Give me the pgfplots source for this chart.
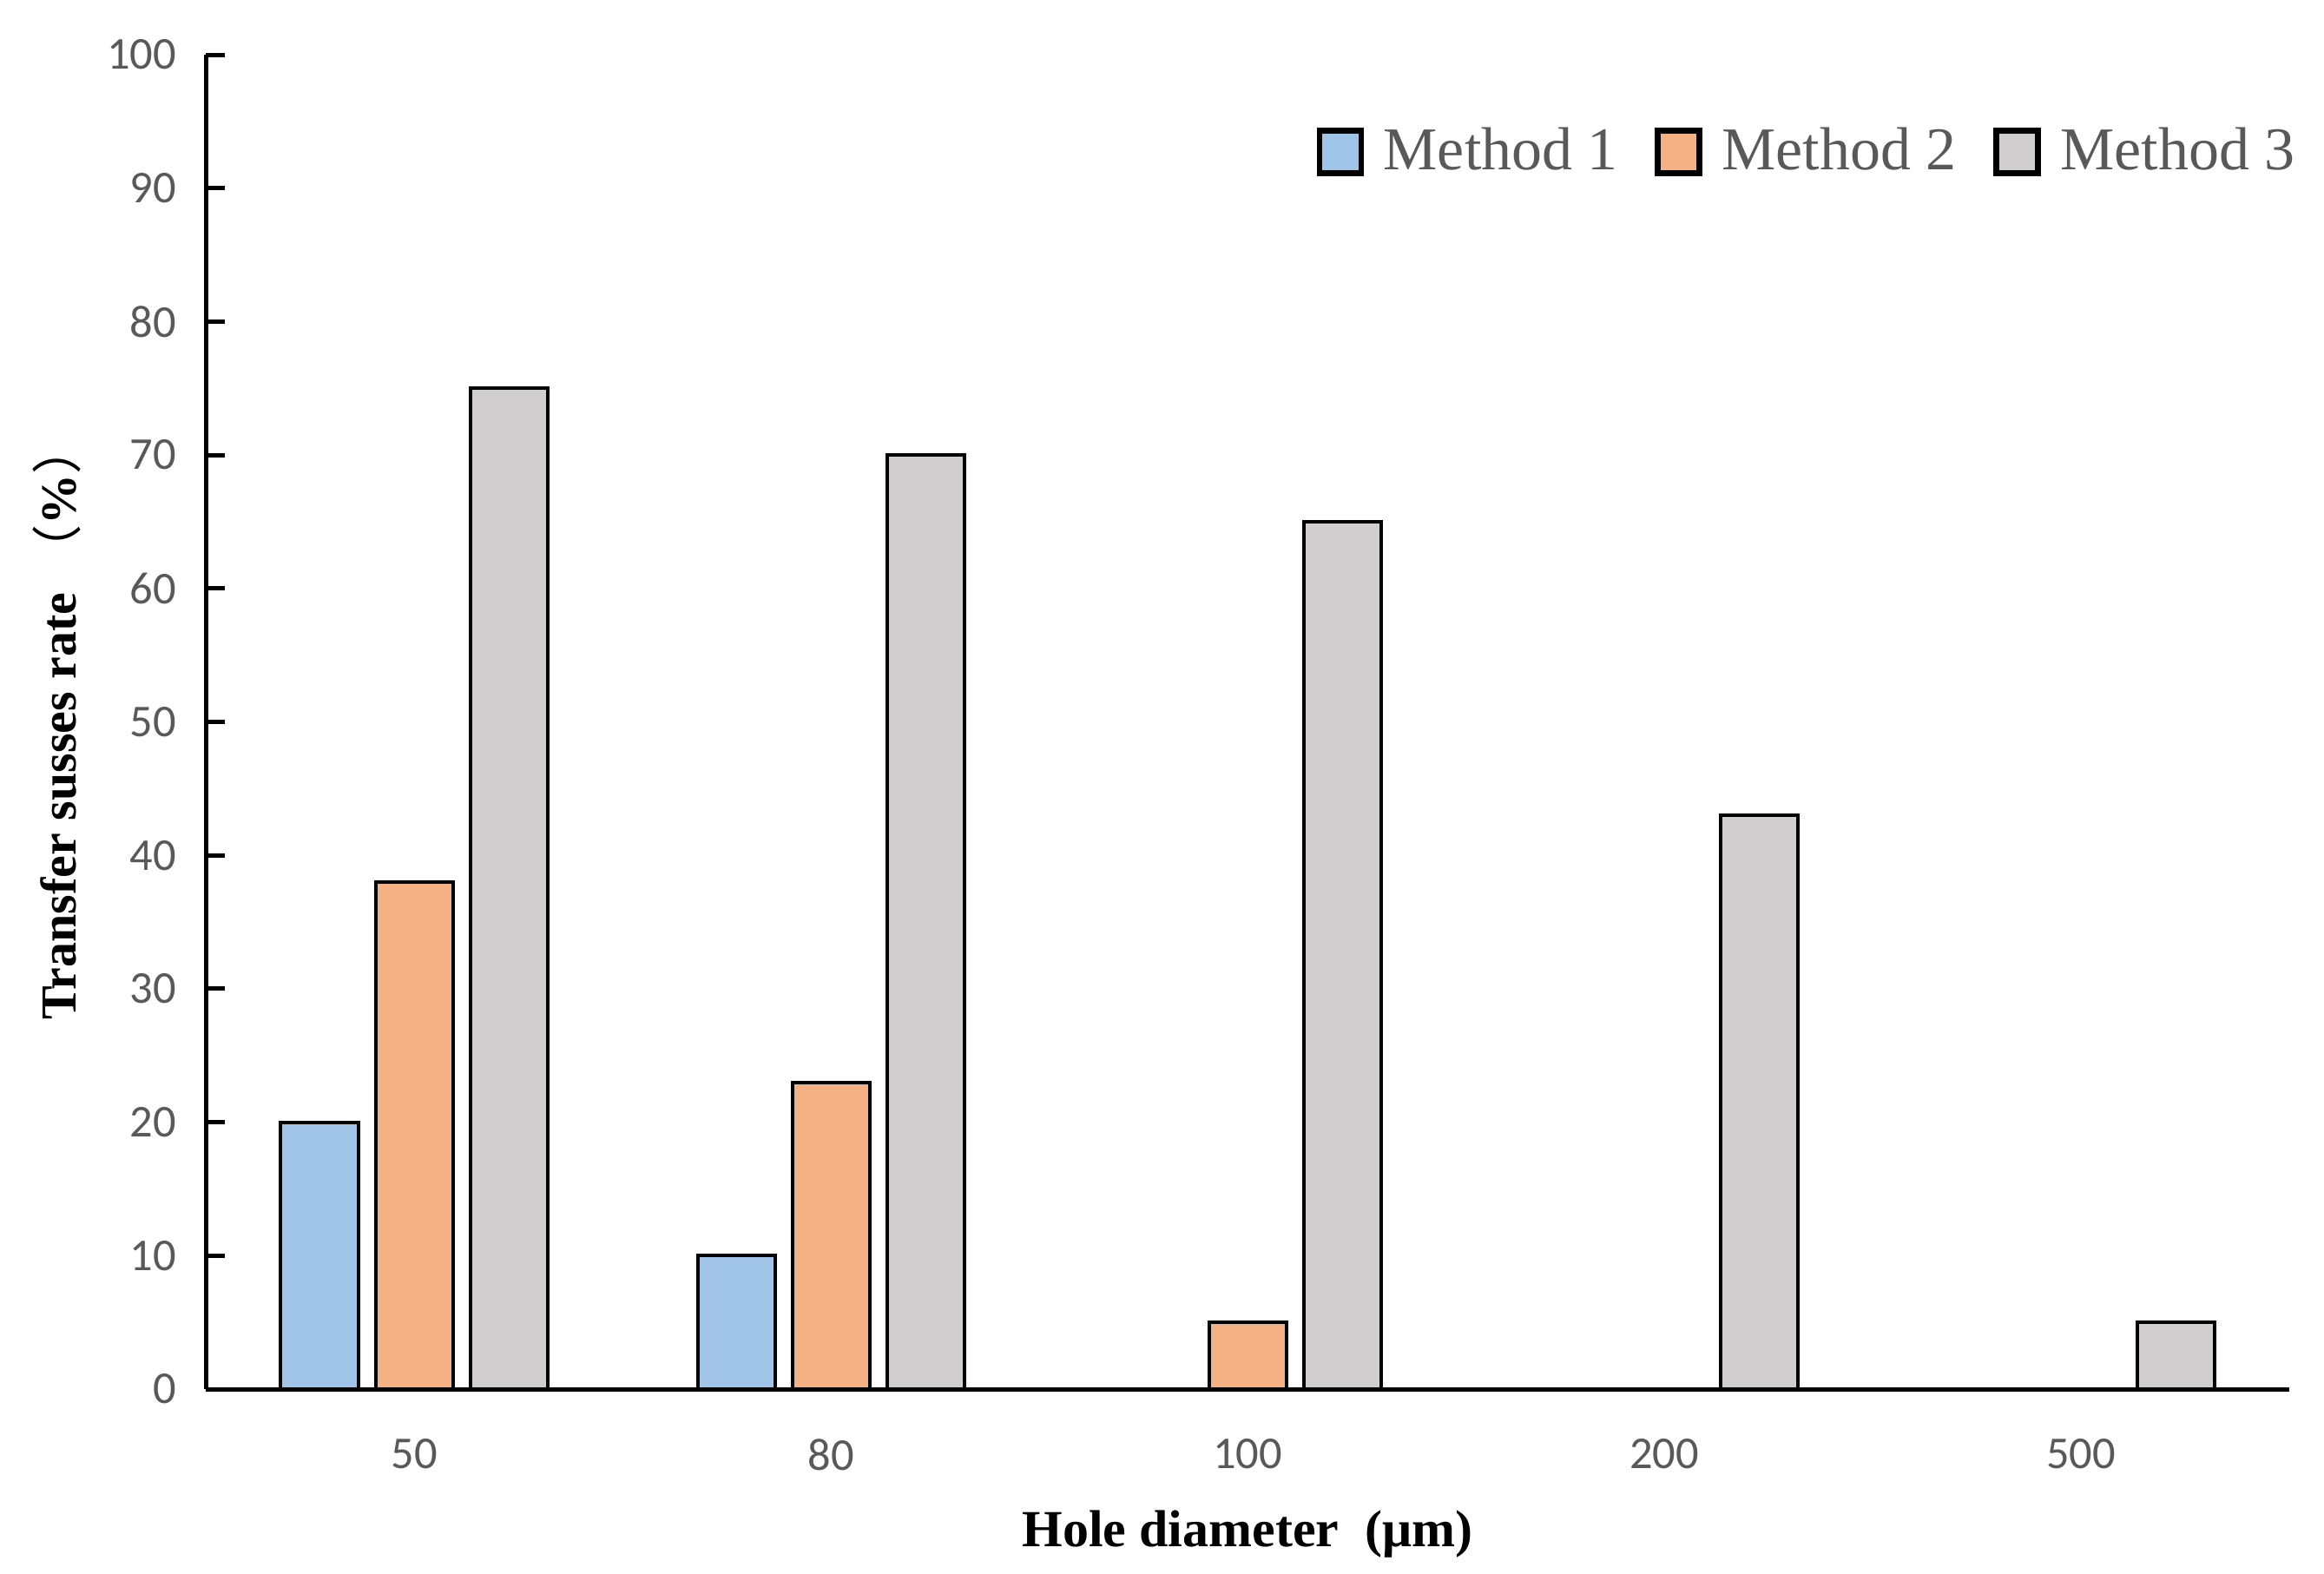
\documentclass[border=0pt]{standalone}
\usepackage{fontspec}
\setmainfont{Liberation Serif}
\newfontfamily\carlito{Carlito}
\newfontfamily\cjk{Noto Sans CJK SC}
\usepackage{pgfplots}
\pgfplotsset{compat=1.18}

\definecolor{mblue}{HTML}{A0C4E8}
\definecolor{morange}{HTML}{F4B183}
\definecolor{mgray}{HTML}{D0CECE}
\definecolor{tickgray}{HTML}{595959}

\begin{document}
\begin{tikzpicture}
\useasboundingbox (-47.4pt,-42.4pt) rectangle (488pt,320pt);
\begin{axis}[
  scale only axis,
  width=480pt, height=307.4pt,
  ybar,
  bar width=17.8pt,
  xmin=-0.5, xmax=4.5,
  ymin=0, ymax=100,
  xtick={0,...,4},
  xticklabels={50,80,100,200,500},
  ytick={0,10,...,100},
  axis x line*=bottom,
  axis y line*=left,
  axis line style={line width=1pt, black},
  xtick style={draw=none},
  ytick style={line width=1pt, black},
  tick align=inside,
  major tick length=4.4pt,
  /pgf/number format/assume math mode=true,
  tick label style={font=\carlito\fontsize{10.5}{12}\selectfont, text=tickgray},
  yticklabel style={xshift=-3.3pt},
  xticklabel style={yshift=-8pt},
  xlabel={\bfseries\fontsize{12}{14}\selectfont Hole diameter\hspace{0.5em}(μm)},
  ylabel={\bfseries\fontsize{11.6}{14}\selectfont Transfer susses rate\hspace{0.35em}{\cjk\mdseries（}\%{\cjk\mdseries）}},
  xlabel style={at={(axis description cs:0.5,0)}, anchor=center, yshift=-33.4pt},
  ylabel style={at={(axis description cs:0,0.5)}, anchor=center, yshift=34.4pt},
  legend columns=3,
  legend style={draw=none, fill=none, at={(axis description cs:1,0.927)}, anchor=east, xshift=6.5pt,
    font=\fontsize{14}{16}\selectfont, text=tickgray,
    /tikz/every even column/.append style={column sep=6.5pt},
    /tikz/every odd column/.append style={column sep=2.5pt}},
  legend cell align=left,
  legend image code/.code={\draw[#1, line width=1.3pt] (0pt,-4.9pt) rectangle (9.6pt,4.9pt);},
]
\addplot[draw=black, line width=0.8pt, fill=mblue, bar shift=-21.8pt]
  coordinates {(0,20) (1,10)};
\addplot[draw=black, line width=0.8pt, fill=morange, bar shift=0pt]
  coordinates {(0,38) (1,23) (2,5)};
\addplot[draw=black, line width=0.8pt, fill=mgray, bar shift=21.8pt]
  coordinates {(0,75) (1,70) (2,65) (3,43) (4,5)};
\legend{Method 1, Method 2, Method 3}
\end{axis}
\end{tikzpicture}
\end{document}
